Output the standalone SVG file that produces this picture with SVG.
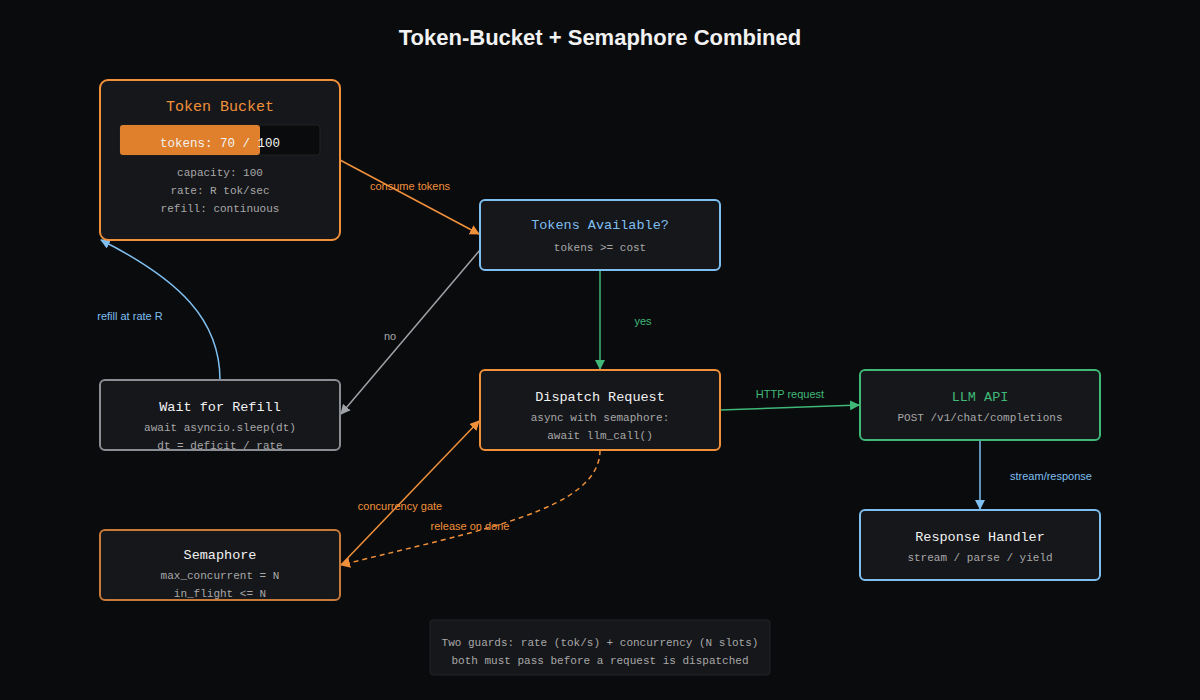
<svg xmlns="http://www.w3.org/2000/svg" width="1200" height="700" viewBox="0 0 1200 700">
<style>
.box{fill:#16171b;stroke-width:2}
.m{font-family:"Liberation Mono",monospace;text-anchor:middle}
.t{font-size:13.5px;fill:#f2f2f2}
.s{font-size:11px;fill:#a8a8a8}
.l{font-family:"Liberation Sans",Arial,sans-serif;font-size:11px}
.e{fill:none;stroke-width:1.5}
</style>
<defs>
<marker id="ao" markerWidth="10" markerHeight="10" refX="9" refY="5" orient="auto" markerUnits="userSpaceOnUse" viewBox="0 0 10 10"><path d="M0,0L10,5L0,10z" fill="#f0903a"/></marker>
<marker id="ab" markerWidth="10" markerHeight="10" refX="9" refY="5" orient="auto" markerUnits="userSpaceOnUse" viewBox="0 0 10 10"><path d="M0,0L10,5L0,10z" fill="#7fbff0"/></marker>
<marker id="ag" markerWidth="10" markerHeight="10" refX="9" refY="5" orient="auto" markerUnits="userSpaceOnUse" viewBox="0 0 10 10"><path d="M0,0L10,5L0,10z" fill="#3fb878"/></marker>
<marker id="ay" markerWidth="10" markerHeight="10" refX="9" refY="5" orient="auto" markerUnits="userSpaceOnUse" viewBox="0 0 10 10"><path d="M0,0L10,5L0,10z" fill="#a0a4a8"/></marker>
</defs>
<rect width="1200" height="700" fill="#0a0b0d"/>
<text x="600" y="45" text-anchor="middle" font-family="Liberation Sans,Arial,sans-serif" font-size="22" font-weight="bold" fill="#f2f2f2">Token-Bucket + Semaphore Combined</text>
<g id="connectors">
<path class="e" d="M340,160L479,234" stroke="#f0903a" marker-end="url(#ao)"/>
<text class="l" x="410" y="190" text-anchor="middle" fill="#f0903a">consume tokens</text>
<path class="e" d="M600,270L600,369" stroke="#3fb878" marker-end="url(#ag)"/>
<text class="l" x="643" y="325" text-anchor="middle" fill="#3fb878">yes</text>
<path class="e" d="M480,250L341,414" stroke="#a0a4a8" marker-end="url(#ay)"/>
<text class="l" x="390" y="340" text-anchor="middle" fill="#a8a8a8">no</text>
<path class="e" d="M220,380C220,320 180,280 101,240" stroke="#7fbff0" marker-end="url(#ab)"/>
<text class="l" x="130" y="320" text-anchor="middle" fill="#7fbff0">refill at rate R</text>
<path class="e" d="M720,410L859,405" stroke="#3fb878" marker-end="url(#ag)"/>
<text class="l" x="790" y="398" text-anchor="middle" fill="#3fb878">HTTP request</text>
<path class="e" d="M980,440L980,509" stroke="#7fbff0" marker-end="url(#ab)"/>
<text class="l" x="1051" y="480" text-anchor="middle" fill="#7fbff0">stream/response</text>
<path class="e" d="M341,565L479,421" stroke="#f0903a" marker-end="url(#ao)"/>
<text class="l" x="400" y="510" text-anchor="middle" fill="#f0903a">concurrency gate</text>
<path class="e" d="M600,450C600,510 480,530 341,565" stroke="#f0903a" stroke-dasharray="5,4" marker-end="url(#ao)"/>
<text class="l" x="470" y="530" text-anchor="middle" fill="#f0903a">release on done</text>
</g>
<g id="token-bucket">
<rect class="box" x="100" y="80" width="240" height="160" rx="8" stroke="#f0903a"/>
<text class="m" x="220" y="111" font-size="15" fill="#f0903a">Token Bucket</text>
<rect x="120" y="125" width="200" height="30" rx="3" fill="#0a0b0d" stroke="#222" />
<rect x="120" y="125" width="140" height="30" rx="3" fill="#e0802c"/>
<text class="m" x="220" y="147" font-size="12.5" fill="#f2f2f2">tokens: 70 / 100</text>
<text class="m s" x="220" y="176">capacity: 100</text>
<text class="m s" x="220" y="194">rate: R tok/sec</text>
<text class="m s" x="220" y="212">refill: continuous</text>
</g>
<g id="tokens-available">
<rect class="box" x="480" y="200" width="240" height="70" rx="5" stroke="#7fbff0"/>
<text class="m" x="600" y="229" font-size="13.5" fill="#7fbff0">Tokens Available?</text>
<text class="m s" x="600" y="251">tokens &gt;= cost</text>
</g>
<g id="wait">
<rect class="box" x="100" y="380" width="240" height="70" rx="5" stroke="#8a8e94"/>
<text class="m t" x="220" y="411">Wait for Refill</text>
<text class="m s" x="220" y="431">await asyncio.sleep(dt)</text>
<text class="m s" x="220" y="449">dt = deficit / rate</text>
</g>
<g id="dispatch">
<rect class="box" x="480" y="370" width="240" height="80" rx="5" stroke="#f0903a"/>
<text class="m t" x="600" y="401">Dispatch Request</text>
<text class="m s" x="600" y="421">async with semaphore:</text>
<text class="m s" x="600" y="439">await llm_call()</text>
</g>
<g id="llm">
<rect class="box" x="860" y="370" width="240" height="70" rx="5" stroke="#3fb878"/>
<text class="m" x="980" y="401" font-size="13.5" fill="#3fb878">LLM API</text>
<text class="m s" x="980" y="421">POST /v1/chat/completions</text>
</g>
<g id="response">
<rect class="box" x="860" y="510" width="240" height="70" rx="5" stroke="#7fbff0"/>
<text class="m t" x="980" y="541">Response Handler</text>
<text class="m s" x="980" y="561">stream / parse / yield</text>
</g>
<g id="semaphore">
<rect class="box" x="100" y="530" width="240" height="70" rx="5" stroke="#c87a38"/>
<text class="m t" x="220" y="559">Semaphore</text>
<text class="m s" x="220" y="579">max_concurrent = N</text>
<text class="m s" x="220" y="597">in_flight &lt;= N</text>
</g>
<g id="note">
<rect x="430" y="620" width="340" height="55" rx="3" fill="#16171b" stroke="#222428"/>
<text class="m s" x="600" y="646">Two guards: rate (tok/s) + concurrency (N slots)</text>
<text class="m s" x="600" y="664">both must pass before a request is dispatched</text>
</g>
</svg>
